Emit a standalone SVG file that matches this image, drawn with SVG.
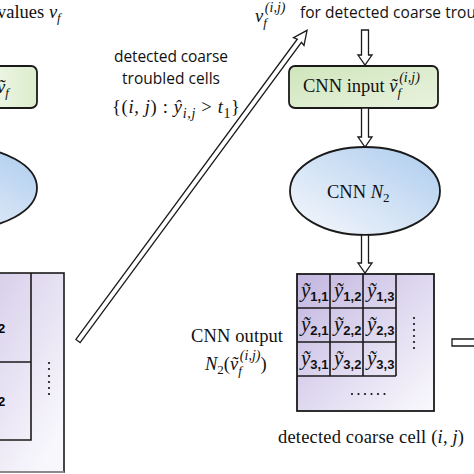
<svg xmlns="http://www.w3.org/2000/svg" width="474" height="474" viewBox="0 0 474 474">
<defs>
<linearGradient id="gGreen" x1="0" y1="0" x2="1" y2="1">
<stop offset="0" stop-color="#cfe5bb"/>
<stop offset="1" stop-color="#e9f3df"/>
</linearGradient>
<linearGradient id="gGreenL" x1="0" y1="0" x2="1" y2="0">
<stop offset="0" stop-color="#f2f8ec"/>
<stop offset="1" stop-color="#dcedcc"/>
</linearGradient>
<linearGradient id="gBlue" x1="0.1" y1="0.9" x2="0.9" y2="0.1">
<stop offset="0" stop-color="#f0f4fb"/>
<stop offset="1" stop-color="#b3d0ef"/>
</linearGradient>
<linearGradient id="gPurple" x1="0" y1="0" x2="1" y2="1">
<stop offset="0" stop-color="#c2b5df"/>
<stop offset="0.55" stop-color="#e2dcf1"/>
<stop offset="1" stop-color="#faf9fd"/>
</linearGradient>
<linearGradient id="gPurpleL" x1="0" y1="0" x2="0.6" y2="1">
<stop offset="0" stop-color="#d8cfeb"/>
<stop offset="1" stop-color="#f8f7fc"/>
</linearGradient>
</defs>
<style>
.ln{stroke:#1a1a1a;stroke-width:1.6;fill:none}
.box{stroke:#1a1a1a;stroke-width:1.8}
.arr{fill:#fff;stroke:#1a1a1a;stroke-width:1.3;stroke-linejoin:miter}
.serif{font-family:"Liberation Serif","DejaVu Serif",serif;font-size:18.5px;fill:#111}
.sans{font-family:"Open Sans","Liberation Sans",sans-serif;font-size:15.5px;fill:#111}
.it{font-style:italic}
.sub{font-size:13px}
.sup{font-size:14px}
.cell{font-family:"Liberation Serif",serif;font-size:21px;fill:#111}
.cs{font-family:"Liberation Sans",sans-serif;font-size:13px;font-weight:bold;font-style:normal}
.dot{fill:#111}
</style>

<!-- left (partial) column -->
<g id="left-values">
<text class="serif" x="-3" y="18">values <tspan class="it">v</tspan><tspan class="it sub" dy="4">f</tspan></text>
</g>
<g id="left-input">
<rect class="box" x="-20" y="66" width="57" height="42" rx="6" fill="url(#gGreenL)"/>
<text class="serif" x="-3" y="93"><tspan class="it">ṽ</tspan><tspan class="it sub" dy="4">f</tspan></text>
</g>
<g id="left-cnn">
<ellipse cx="-38" cy="188" rx="75" ry="41" fill="url(#gBlue)" stroke="#1a1a1a" stroke-width="1.8"/>
</g>
<g id="left-grid">
<rect x="-2" y="273" width="66" height="199" fill="url(#gPurpleL)" stroke="#1a1a1a" stroke-width="1.6"/>
<line x1="0" y1="472" x2="64" y2="472" stroke="#8a8a8a" stroke-width="2"/>
<path class="ln" d="M31 273 V440 H-2 M-2 362 H31"/>
<text class="cs" x="-2" y="333">2</text>
<text class="cs" x="-2" y="406">2</text>
<g class="dot">
<circle cx="49" cy="363" r="1.1"/><circle cx="49" cy="369" r="1.1"/><circle cx="49" cy="376" r="1.1"/>
<circle cx="49" cy="382" r="1.1"/><circle cx="49" cy="388" r="1.1"/><circle cx="49" cy="394" r="1.1"/>
</g>
</g>

<!-- middle label -->
<g id="detected-label">
<text class="sans" x="114" y="62" textLength="114">detected coarse</text>
<text class="sans" x="122" y="84" textLength="98">troubled cells</text>
<text class="serif" x="112" y="113" font-size="21" textLength="128">{(<tspan class="it">i</tspan>, <tspan class="it">j</tspan>) : <tspan class="it">ŷ</tspan><tspan class="it" font-size="14" dy="5">i,j</tspan><tspan dy="-5"> &gt; </tspan><tspan class="it">t</tspan><tspan font-size="14" dy="5">1</tspan><tspan dy="-5">}</tspan></text>
</g>

<!-- right column -->
<g id="top-label">
<text class="serif" x="255" y="22"><tspan class="it">v</tspan><tspan class="it sub" dy="5">f</tspan><tspan class="it sup" dx="-2" dy="-15">(i,j)</tspan></text>
<text class="sans" x="300" y="18" textLength="176">for detected coarse trou</text>
</g>
<g id="cnn-input">
<rect class="box" x="289" y="66" width="149" height="42" rx="6" fill="url(#gGreen)"/>
<text class="serif" x="303" y="92">CNN input <tspan class="it">ṽ</tspan><tspan class="it sub" dy="5">f</tspan><tspan class="it sup" dx="-2" dy="-15">(i,j)</tspan></text>
</g>
<g id="cnn-n2">
<ellipse cx="365" cy="191" rx="75" ry="44" fill="url(#gBlue)" stroke="#1a1a1a" stroke-width="1.8"/>
<text class="serif" x="327" y="198" font-size="19">CNN <tspan class="it">N</tspan><tspan class="sub" dy="4">2</tspan></text>
</g>
<g id="output-grid">
<rect x="297" y="274" width="137" height="137" fill="url(#gPurple)" stroke="#1a1a1a" stroke-width="1.8"/>
<path class="ln" d="M330 274 V376 M363 274 V376 M396 274 V376 M297 308 H396 M297 342 H396 M297 376 H396"/>
<g class="cell">
<text x="301" y="297"><tspan class="it">ỹ</tspan><tspan class="cs" dy="4">1,1</tspan></text>
<text x="334" y="297"><tspan class="it">ỹ</tspan><tspan class="cs" dy="4">1,2</tspan></text>
<text x="367" y="297"><tspan class="it">ỹ</tspan><tspan class="cs" dy="4">1,3</tspan></text>
<text x="301" y="331"><tspan class="it">ỹ</tspan><tspan class="cs" dy="4">2,1</tspan></text>
<text x="334" y="331"><tspan class="it">ỹ</tspan><tspan class="cs" dy="4">2,2</tspan></text>
<text x="367" y="331"><tspan class="it">ỹ</tspan><tspan class="cs" dy="4">2,3</tspan></text>
<text x="301" y="365"><tspan class="it">ỹ</tspan><tspan class="cs" dy="4">3,1</tspan></text>
<text x="334" y="365"><tspan class="it">ỹ</tspan><tspan class="cs" dy="4">3,2</tspan></text>
<text x="367" y="365"><tspan class="it">ỹ</tspan><tspan class="cs" dy="4">3,3</tspan></text>
</g>
<g class="dot">
<circle cx="414" cy="318" r="1.1"/><circle cx="414" cy="324" r="1.1"/><circle cx="414" cy="330" r="1.1"/>
<circle cx="414" cy="336" r="1.1"/><circle cx="414" cy="342" r="1.1"/><circle cx="414" cy="348" r="1.1"/>
<circle cx="352" cy="394" r="1.1"/><circle cx="358.5" cy="394" r="1.1"/><circle cx="365" cy="394" r="1.1"/>
<circle cx="371.5" cy="394" r="1.1"/><circle cx="378" cy="394" r="1.1"/><circle cx="384.5" cy="394" r="1.1"/>
</g>
</g>
<g id="output-label">
<text class="serif" x="191" y="342" textLength="92">CNN output</text>
<text class="serif" x="205" y="370"><tspan class="it">N</tspan><tspan class="sub" dy="4">2</tspan><tspan dy="-4">(</tspan><tspan class="it">ṽ</tspan><tspan class="it sub" dy="5">f</tspan><tspan class="it sup" dx="-2" dy="-15">(i,j)</tspan><tspan dy="10">)</tspan></text>
</g>
<g id="cell-label">
<text class="serif" x="278" y="443" textLength="186">detected coarse cell  (<tspan class="it">i</tspan>, <tspan class="it">j</tspan>)</text>
</g>

<!-- connectors -->
<g id="connectors">
<path class="arr" d="M361.5 30 H368.5 V55 H372 L365 65 L358 55 H361.5 Z"/>
<path class="arr" d="M361.5 108 H368.5 V137 H372 L365 147 L358 137 H361.5 Z"/>
<path class="arr" d="M361.5 235 H368.5 V263 H372 L365 273 L358 263 H361.5 Z"/>
<g transform="translate(78 341) rotate(-53.6)">
<path class="arr" d="M0 -2.6 H373 L372 -6.5 L386 0 L372 6.5 L373 2.6 H0 Z"/>
</g>
<path class="arr" d="M478 339 H452 V346 H478"/>
</g>
</svg>
